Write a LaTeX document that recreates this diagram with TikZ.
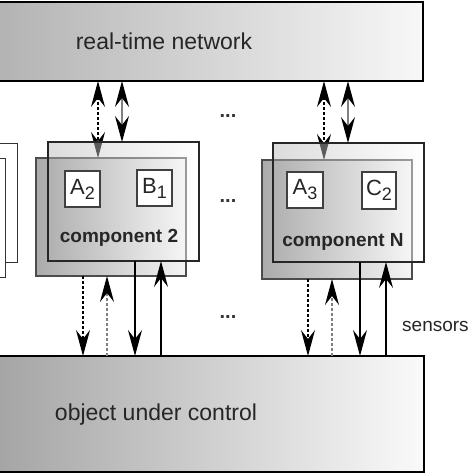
\documentclass[tikz,border=0pt]{standalone}
\usepackage{fontspec}
\setmainfont{Liberation Sans}
\usetikzlibrary{arrows.meta}
\begin{document}
\begin{tikzpicture}[x=1pt,y=-1pt,
  lbl/.style={font=\fontsize{23}{23}\selectfont, text=black!85, inner sep=0pt},
  comptext/.style={font=\bfseries\fontsize{19}{19}\selectfont, text=black!85, inner sep=0pt},
  dotstext/.style={font=\bfseries\fontsize{20}{20}\selectfont, text=black!80, inner sep=0pt},
  intext/.style={font=\fontsize{22}{22}\selectfont, text=black!85, inner sep=0pt},
  bigbox/.style={draw=black, line width=2pt, inner sep=0pt, outer sep=0pt},
  frontbox/.style={draw=black!85, line width=1.3pt, fill opacity=0.45, left color=black!30, right color=white, inner sep=0pt, outer sep=0pt, minimum width=151pt, minimum height=119pt},
  backbox/.style={draw=black!70, line width=1.3pt, left color=black!33, right color=black!4, inner sep=0pt, outer sep=0pt, minimum width=150pt, minimum height=118pt},
  inbox/.style={draw=black!75, line width=1.3pt, fill=white, minimum width=35pt, minimum height=36pt, inner sep=0pt, outer sep=0pt},
  tip/.tip={Stealth[length=26pt,width=14pt,inset=9pt,color=black]},
  conn/.style={line width=1.2pt},
  dsh/.style={dash pattern=on 3pt off 2pt, line width=1.1pt},
]
\clip (0,0) rectangle (474,474);
\useasboundingbox (0,0) rectangle (474,474);
\fill[white] (0,0) rectangle (474,474);

% x positions of connectors
\coordinate (a1) at (98,0);
\coordinate (a2) at (122,0);
\coordinate (a3) at (324,0);
\coordinate (a4) at (348,0);
\coordinate (b1) at (83,0);
\coordinate (b2) at (107,0);
\coordinate (b3) at (135,0);
\coordinate (b4) at (161,0);
\coordinate (b5) at (308,0);
\coordinate (b6) at (332,0);
\coordinate (b7) at (360,0);
\coordinate (b8) at (386,0);

% real-time network
\node[bigbox, left color=black!32, right color=black!3, minimum width=460pt, minimum height=79pt, anchor=north east] (net) at (423,2) {};
\node[lbl] (nettext) at (164,41) {real-time network};

% object under control
\node[bigbox, left color=black!38, right color=black!2, minimum width=460pt, minimum height=116pt, anchor=north east] (obj) at (424,356) {};
\node[lbl] (objtext) at (156,415) {object under control};

% left partial component
\node[draw=black!80, line width=1.3pt, fill=white, minimum width=151pt, minimum height=119pt, anchor=north east, inner sep=0pt] (cF1) at (18,143) {};
\node[draw=black!80, line width=1.3pt, fill=white, minimum width=150pt, minimum height=119pt, anchor=north east, inner sep=0pt] (cB1) at (6,158) {};

% back boxes
\node[backbox, anchor=north west] (cB2) at (36,158) {};
\node[backbox, anchor=north west, minimum height=119pt] (cBN) at (262,160) {};

% dashed connectors into back boxes (seen through the front boxes)
\draw[dsh, tip-tip] (net.south -| a1) -- (cB2.north -| a1);
\draw[dsh, tip-tip] (net.south -| a3) -- (cBN.north -| a3);

% front boxes
\node[frontbox, anchor=north west] (cF2) at (48,142) {};
\node[frontbox, anchor=north west] (cFN) at (273,143) {};

% inner boxes
\node[inbox, anchor=north west] (A2) at (65,171) {};
\node[intext] at (A2.center) {A\raisebox{-5pt}{\fontsize{18}{18}\selectfont 2}};
\node[inbox, anchor=north west] (B1) at (137,170) {};
\node[intext] at (B1.center) {B\raisebox{-5pt}{\fontsize{18}{18}\selectfont 1}};
\node[inbox, anchor=north west, minimum width=36pt] (A3) at (287,172) {};
\node[intext] at (A3.center) {A\raisebox{-5pt}{\fontsize{18}{18}\selectfont 3}};
\node[inbox, anchor=north west, minimum width=34pt, minimum height=37pt] (C2) at (362,172) {};
\node[intext] at (C2.center) {C\raisebox{-5pt}{\fontsize{18}{18}\selectfont 2}};

\node[comptext] (t2) at (119,238) {component 2};
\node[comptext] (tN) at (343,242) {component N};

% solid gray connectors to front boxes
\draw[conn, black!50, tip-tip] (net.south -| a2) -- (cF2.north -| a2);
\draw[conn, black!50, tip-tip] (net.south -| a4) -- (cFN.north -| a4);

% bottom connectors, component 2
\draw[dsh, -tip] (cB2.south -| b1) -- (obj.north -| b1);
\draw[dsh, black!50, -tip] (obj.north -| b2) -- (cB2.south -| b2);
\draw[conn, -tip] (cF2.south -| b3) -- (obj.north -| b3);
\draw[conn, -tip] (obj.north -| b4) -- (cF2.south -| b4);

% bottom connectors, component N
\draw[dsh, -tip] (cBN.south -| b5) -- (obj.north -| b5);
\draw[dsh, black!50, -tip] (obj.north -| b6) -- (cBN.south -| b6);
\draw[conn, -tip] (cFN.south -| b7) -- (obj.north -| b7);
\draw[conn, -tip] (obj.north -| b8) -- (cFN.south -| b8);

% dots and sensors
\node[dotstext] (d1) at (228,116) {...};
\node[dotstext] (d2) at (228,201) {...};
\node[dotstext] (d3) at (228,317) {...};
\node[lbl, anchor=west, font=\fontsize{19}{19}\selectfont] (sens) at (402,326) {sensors};
\end{tikzpicture}
\end{document}
